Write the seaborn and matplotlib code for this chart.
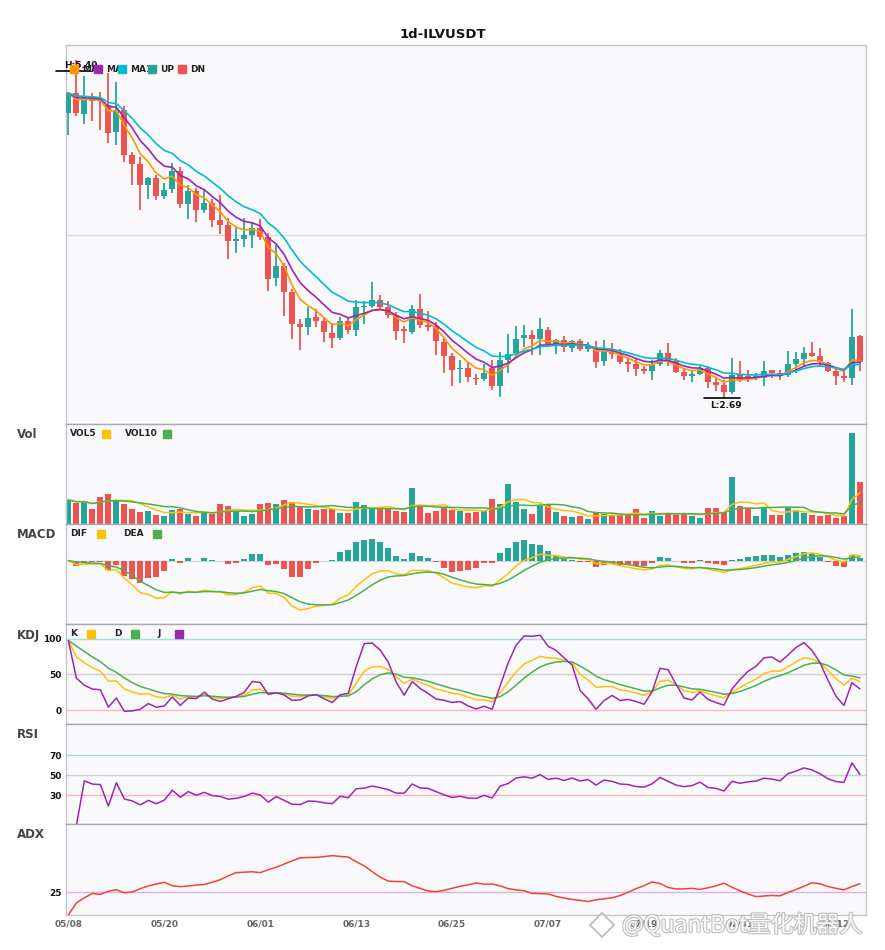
import numpy as np
import pandas as pd
import matplotlib
matplotlib.use("Agg")
import matplotlib.pyplot as plt
import matplotlib.patheffects as pe
from matplotlib.patches import Rectangle
from matplotlib.lines import Line2D
from matplotlib.transforms import offset_copy
import seaborn as sns

sns.set_theme(style="white")
plt.rcParams["font.family"] = ["DejaVu Sans", "Noto Sans CJK SC"]
plt.rcParams["axes.unicode_minus"] = False

# ---- daily candles, ILV/USDT ----
dates = pd.date_range("2025-05-08", periods=100, freq="D")

open_ = [4.977, 5.133, 4.967, 5.111, 5.091, 5.039, 4.825, 4.999, 4.638, 4.566,
         4.398, 4.456, 4.309, 4.366, 4.510, 4.245, 4.350, 4.197, 4.253, 4.117,
         4.077, 3.951, 3.965, 3.997, 4.053, 3.983, 3.657, 3.748, 3.542, 3.283,
         3.261, 3.337, 3.307, 3.216, 3.173, 3.309, 3.235, 3.417, 3.427, 3.475,
         3.417, 3.355, 3.235, 3.221, 3.403, 3.275, 3.267, 3.141, 3.026, 2.922,
         2.933, 2.852, 2.842, 2.936, 2.786, 2.994, 3.053, 3.173, 3.195, 3.163,
         3.235, 3.123, 3.155, 3.093, 3.147, 3.088, 3.096, 2.989, 3.088, 3.042,
         2.980, 2.962, 2.925, 2.909, 2.968, 3.053, 2.989, 2.900, 2.872, 2.888,
         2.936, 2.820, 2.794, 2.740, 2.874, 2.860, 2.852, 2.856, 2.914, 2.892,
         2.874, 2.968, 3.002, 3.053, 3.026, 2.973, 2.906, 2.866, 2.856, 3.187]

high = [5.143, 5.400, 5.272, 5.133, 5.143, 5.298, 5.224, 5.031, 4.662, 4.625,
        4.464, 4.478, 4.416, 4.572, 4.544, 4.398, 4.374, 4.358, 4.283, 4.317,
        4.133, 4.066, 4.133, 4.093, 4.125, 4.013, 3.916, 3.772, 3.564, 3.323,
        3.417, 3.401, 3.341, 3.289, 3.337, 3.337, 3.475, 3.467, 3.622, 3.513,
        3.467, 3.379, 3.267, 3.435, 3.524, 3.387, 3.301, 3.171, 3.050, 3.000,
        2.970, 2.888, 2.968, 2.994, 3.061, 3.203, 3.267, 3.275, 3.235, 3.329,
        3.257, 3.168, 3.187, 3.160, 3.168, 3.141, 3.147, 3.155, 3.133, 3.088,
        3.021, 3.008, 2.946, 2.994, 3.074, 3.133, 3.010, 2.928, 2.914, 2.946,
        2.946, 2.860, 2.840, 3.016, 2.989, 2.914, 2.896, 2.986, 2.920, 2.914,
        3.066, 3.061, 3.101, 3.141, 3.096, 2.980, 2.941, 2.900, 3.403, 3.195]

low = [4.799, 4.951, 4.887, 4.913, 4.839, 4.737, 4.718, 4.584, 4.398, 4.197,
       4.283, 4.277, 4.283, 4.336, 4.213, 4.123, 4.103, 4.176, 4.063, 4.005,
       3.804, 3.855, 3.903, 3.892, 3.957, 3.550, 3.590, 3.350, 3.165, 3.074,
       3.195, 3.257, 3.141, 3.096, 3.160, 3.203, 3.187, 3.281, 3.411, 3.395,
       3.331, 3.155, 3.133, 3.208, 3.251, 3.229, 3.034, 2.892, 2.788, 2.812,
       2.820, 2.794, 2.826, 2.754, 2.700, 2.892, 3.026, 3.101, 3.034, 3.034,
       3.115, 3.042, 3.061, 3.061, 3.069, 3.061, 2.933, 2.949, 3.008, 2.962,
       2.900, 2.868, 2.888, 2.834, 2.946, 2.946, 2.890, 2.840, 2.820, 2.874,
       2.772, 2.746, 2.690, 2.727, 2.820, 2.820, 2.834, 2.786, 2.856, 2.840,
       2.860, 2.892, 2.946, 3.021, 2.946, 2.900, 2.794, 2.820, 2.794, 2.909]

close = [5.133, 4.977, 5.093, 5.074, 5.071, 4.817, 4.999, 4.638, 4.566, 4.398,
         4.456, 4.309, 4.358, 4.510, 4.245, 4.350, 4.197, 4.253, 4.117, 4.077,
         3.951, 3.965, 3.997, 4.053, 3.983, 3.644, 3.748, 3.542, 3.285, 3.261,
         3.329, 3.309, 3.221, 3.173, 3.307, 3.235, 3.417, 3.430, 3.475, 3.422,
         3.355, 3.229, 3.229, 3.403, 3.275, 3.261, 3.149, 3.026, 2.914, 2.933,
         2.860, 2.842, 2.890, 2.786, 2.994, 3.048, 3.168, 3.195, 3.163, 3.241,
         3.128, 3.155, 3.101, 3.147, 3.083, 3.109, 2.980, 3.069, 3.042, 2.980,
         2.968, 2.922, 2.909, 2.954, 3.053, 2.980, 2.900, 2.866, 2.880, 2.928,
         2.820, 2.799, 2.740, 2.874, 2.834, 2.856, 2.866, 2.906, 2.892, 2.866,
         2.962, 3.002, 3.053, 3.029, 2.980, 2.909, 2.866, 2.852, 3.181, 2.980]

# volume in thousands
volume = [24.3, 20.7, 22.3, 15.3, 27.3, 30.3, 24.3, 20.3, 15.3, 12.3,
          13.3, 9.3, 8.3, 14.3, 15.3, 10.7, 8.3, 12.0, 10.7, 20.3,
          18.3, 13.0, 8.3, 10.3, 20.3, 21.3, 20.3, 24.3, 22.3, 17.0,
          15.3, 14.3, 15.3, 15.0, 11.7, 11.7, 22.3, 19.3, 16.0, 15.0,
          15.0, 13.7, 12.7, 36.3, 18.3, 11.7, 13.7, 17.0, 14.3, 13.7,
          11.7, 12.7, 13.7, 25.3, 20.3, 40.3, 22.3, 15.3, 10.3, 18.3,
          19.3, 12.3, 8.3, 7.3, 8.3, 5.3, 12.3, 10.7, 9.3, 9.3,
          10.3, 15.3, 6.3, 13.3, 8.3, 11.3, 11.3, 10.3, 8.3, 6.3,
          16.3, 16.3, 12.3, 47.3, 18.3, 15.7, 8.3, 17.3, 9.3, 9.3,
          17.3, 14.3, 11.3, 9.3, 8.3, 9.3, 6.3, 8.3, 90.3, 42.3]

df = pd.DataFrame({"open": open_, "high": high, "low": low,
                   "close": close, "volume": volume}, index=dates)
idx = np.arange(len(df))

UP = "#26a69a"
DN = "#ef5350"
bar_colors = np.where(df["close"] >= df["open"], UP, DN)

# ---- indicators ----
# fibonacci moving averages 5 / 8 / 13
for n in (5, 8, 13):
    df[f"ma{n}"] = df["close"].ewm(span=n, adjust=False).mean()
df["vol5"] = df["volume"].rolling(5, min_periods=1).mean()
df["vol10"] = df["volume"].rolling(10, min_periods=1).mean()

# fast MACD (6, 13, 5)
df["dif"] = df["close"].ewm(span=6, adjust=False).mean() - df["close"].ewm(span=13, adjust=False).mean()
df["dea"] = df["dif"].ewm(span=5, adjust=False).mean()
df["hist"] = 2 * (df["dif"] - df["dea"])

low9 = df["low"].rolling(9, min_periods=1).min()
high9 = df["high"].rolling(9, min_periods=1).max()
rsv = (df["close"] - low9) / (high9 - low9) * 100
df["k"] = rsv.ewm(com=2, adjust=False).mean()
df["d"] = df["k"].ewm(com=2, adjust=False).mean()
df["j"] = 3 * df["k"] - 2 * df["d"]

delta = df["close"].diff()
gain = delta.clip(lower=0).ewm(com=13).mean()
loss = (-delta.clip(upper=0)).ewm(com=13).mean()
df["rsi"] = 100 * gain / (gain + loss)

prev_close = df["close"].shift()
tr = pd.concat([df["high"] - df["low"], (df["high"] - prev_close).abs(),
                (df["low"] - prev_close).abs()], axis=1).max(axis=1)
up_move = df["high"].diff()
dn_move = -df["low"].diff()
pdm = pd.Series(np.where((up_move > dn_move) & (up_move > 0), up_move, 0.0), index=df.index)
mdm = pd.Series(np.where((dn_move > up_move) & (dn_move > 0), dn_move, 0.0), index=df.index)
atr = tr.ewm(span=14, adjust=False).mean()
pdi = 100 * pdm.ewm(span=14, adjust=False).mean() / atr
mdi = 100 * mdm.ewm(span=14, adjust=False).mean() / atr
dx = (100 * (pdi - mdi).abs() / (pdi + mdi)).fillna(0)
df["adx"] = dx.ewm(span=14, adjust=False).mean()

# ---- figure layout (pixel based) ----
W, H = 885, 950
fig = plt.figure(figsize=(W / 100, H / 100), dpi=100)
left, right = 66 / W, 865.5 / W


def add_panel(top_px, bottom_px, sharex=None):
    ax = fig.add_axes([left, 1 - bottom_px / H, right - left, (bottom_px - top_px) / H],
                      sharex=sharex)
    ax.set_facecolor("#f9f9fc")
    for s in ax.spines.values():
        s.set_color("#c4c4ce")
        s.set_linewidth(1)
    ax.tick_params(axis="both", length=0)
    return ax


ax_k = add_panel(45, 424.3)
ax_v = add_panel(424.3, 524.3, ax_k)
ax_m = add_panel(524.3, 624.3, ax_k)
ax_kdj = add_panel(624.3, 724.3, ax_k)
ax_r = add_panel(724.3, 824.3, ax_k)
ax_a = add_panel(824.3, 915, ax_k)
for ax in (ax_v, ax_m, ax_kdj, ax_r, ax_a):
    ax.spines["top"].set_color("#a8a8b0")

# ---- candles ----
ax_k.axhline(4.0, color="#dcdce0", lw=1, zorder=0)
ax_k.vlines(idx, df["low"], df["high"], colors=bar_colors, lw=1.3, zorder=2)
body = np.maximum((df["close"] - df["open"]).abs(), 0.012)
ax_k.bar(idx, body, bottom=np.minimum(df["open"], df["close"]), width=0.75,
         color=bar_colors, linewidth=0, zorder=3)
for col, c in (("ma5", "#ff9800"), ("ma8", "#9c27b0"), ("ma13", "#00bcd4")):
    sns.lineplot(x=idx, y=df[col].values, ax=ax_k, color=c, linewidth=1.2, zorder=4)
rng = df["high"].max() - df["low"].min()
ax_k.set_ylim(df["low"].min() - 0.077 * rng, df["high"].max() + 0.044 * rng)
ax_k.set_yticks([])

# high / low markers
ih = int(np.argmax(df["high"].values))
hv = df["high"].iloc[ih]
t_h = offset_copy(ax_k.transData, fig=fig, x=0, y=-11, units="dots")
ax_k.plot([ih - 2.5, ih + 1.75], [hv, hv], color="black", lw=1.2, transform=t_h, clip_on=False, zorder=6)
ax_k.text(ih + 0.5, hv, f"H:{hv:.2f}", transform=offset_copy(ax_k.transData, fig=fig, y=-10, units="dots"),
          ha="center", va="bottom", fontsize=6.5, fontweight="bold", color="#111", zorder=6, clip_on=False)
il = int(np.argmin(df["low"].values))
lv = df["low"].iloc[il]
ax_k.plot([il - 2.5, il + 2.0], [lv, lv], color="black", lw=1.2, zorder=6)
ax_k.text(il + 0.3, lv, f"L:{lv:.2f}", transform=offset_copy(ax_k.transData, fig=fig, y=-3, units="dots"),
          ha="center", va="top", fontsize=6.5, fontweight="bold", color="#111", zorder=6)

# ---- volume ----
ax_v.bar(idx, df["volume"], width=0.75, color=bar_colors, linewidth=0, zorder=2)
sns.lineplot(x=idx, y=df["vol5"].values, ax=ax_v, color="#ffc107", linewidth=1.1, zorder=3)
sns.lineplot(x=idx, y=df["vol10"].values, ax=ax_v, color="#4caf50", linewidth=1.1, zorder=3)
ax_v.set_ylim(0, df["volume"].max() * 1.1)
ax_v.set_yticks([])

# ---- MACD ----
ax_m.axhline(0, color="#d6d6da", lw=1, zorder=0)
ax_m.bar(idx, df["hist"], width=0.75, color=np.where(df["hist"] >= 0, UP, DN), linewidth=0, zorder=2)
sns.lineplot(x=idx, y=df["dif"].values, ax=ax_m, color="#ffc107", linewidth=1.1, zorder=3)
sns.lineplot(x=idx, y=df["dea"].values, ax=ax_m, color="#4caf50", linewidth=1.1, zorder=3)
m_lo = df[["dif", "dea", "hist"]].min().min()
m_hi = df[["dif", "dea", "hist"]].max().max()
m_pad = 0.2 * (m_hi - m_lo)
ax_m.set_ylim(m_lo - m_pad, m_hi + m_pad)
ax_m.set_yticks([])

# ---- KDJ ----
ax_kdj.axhline(100, color="#a9dcdc", lw=1, zorder=0)
ax_kdj.axhline(50, color="#d0d0d4", lw=1, zorder=0)
ax_kdj.axhline(0, color="#ffb3b8", lw=1, zorder=0)
for col, c in (("k", "#ffc107"), ("d", "#4caf50"), ("j", "#9c27b0")):
    sns.lineplot(x=idx, y=df[col].values, ax=ax_kdj, color=c, linewidth=1.1, zorder=3)
ax_kdj.set_ylim(-20, 120)
ax_kdj.set_yticks([100, 50, 0])

# ---- RSI ----
ax_r.axhline(70, color="#a9dcdc", lw=1, zorder=0)
ax_r.axhline(50, color="#d0d0d4", lw=1, zorder=0)
ax_r.axhline(30, color="#ffb3b8", lw=1, zorder=0)
sns.lineplot(x=idx, y=df["rsi"].values, ax=ax_r, color="#9c27b0", linewidth=1.1, zorder=3)
ax_r.set_ylim(1, 101)
ax_r.set_yticks([70, 50, 30])

# ---- ADX ----
ax_a.axhline(25, color="#dcaee6", lw=1, zorder=0)
sns.lineplot(x=idx, y=df["adx"].values, ax=ax_a, color="#f44336", linewidth=1.1, zorder=3)
ax_a.set_ylim(0, 100)
ax_a.set_yticks([25])

for ax in (ax_kdj, ax_r, ax_a):
    ax.tick_params(axis="y", pad=3, labelsize=6.5, labelcolor="#111")
    for lab in ax.get_yticklabels():
        lab.set_fontweight("bold")

for ax in (ax_k, ax_v, ax_m, ax_kdj, ax_r):
    ax.tick_params(axis="x", labelbottom=False)
    ax.set_xlabel("")
    ax.set_ylabel("")
ax_a.set_xticks(idx[::12])
ax_a.set_xticklabels(df.index[::12].strftime("%m/%d"), fontsize=6.5, fontweight="bold", color="#666")
ax_a.tick_params(axis="x", pad=3)
ax_a.set_xlabel("")
ax_a.set_ylabel("")
ax_k.set_xlim(-0.3, 99.7)

# ---- titles, panel names, legends ----
fig.text(0.5, 1 - 34 / H, "1d-ILVUSDT", ha="center", va="center", fontsize=9.5, fontweight="bold", color="#111")
for name, ypx in (("Vol", 434.5), ("MACD", 534.5), ("KDJ", 635), ("RSI", 734.5), ("ADX", 834.5)):
    fig.text(17 / W, 1 - ypx / H, name, ha="left", va="center", fontsize=8.5, fontweight="bold", color="#444")


def square(xpx, ypx, color, z):
    fig.add_artist(Rectangle((xpx / W, 1 - (ypx + 4) / H), 8 / W, 8 / H,
                             transform=fig.transFigure, color=color, zorder=z))


def label(xpx, ypx, s, z):
    return fig.text(xpx / W, 1 - ypx / H, s, ha="left", va="center", fontsize=6.5,
                    fontweight="bold", color="#222", zorder=z)


main_items = [(70, "#ff9800", "MA5"), (94, "#9c27b0", "MA8"), (118, "#00bcd4", "MA13"),
              (148, UP, "UP"), (178, DN, "DN")]
for k, (xp, c, s) in enumerate(main_items):
    square(xp, 69, c, 10 + 2 * k)
    t = label(xp + 12, 69, s, 11 + 2 * k)
    if k + 1 < len(main_items):
        t.set_clip_path(Rectangle((0, 0), main_items[k + 1][0] / W, 1, transform=fig.transFigure))

sub_items = [(434, [("VOL5", 70, 101.5, "#ffc107"), ("VOL10", 125, 163, "#4caf50")]),
             (533.7, [("DIF", 70, 97, "#ffc107"), ("DEA", 123, 153, "#4caf50")]),
             (633.7, [("K", 70.5, 87, "#ffc107"), ("D", 114, 131, "#4caf50"), ("J", 157, 175, "#9c27b0")])]
for ypx, items in sub_items:
    for s, xt, xs, c in items:
        label(xt, ypx, s, 10)
        square(xs, ypx, c, 10)

# watermark
wm = fig.text(622 / W, 1 - 925 / H, "@QuantBot量化机器人", ha="left", va="center", fontsize=16.5,
              color="white", alpha=0.9, zorder=30,
              family=["Noto Sans CJK SC", "DejaVu Sans"])
wm.set_path_effects([pe.withStroke(linewidth=1.6, foreground="#b8b8b8")])
fig.add_artist(Line2D([602 / W], [1 - 925 / H], marker="D", markersize=12, markerfacecolor="white",
                      markeredgecolor="#c0c0c0", markeredgewidth=1.4, transform=fig.transFigure, zorder=30))

fig.savefig("out.png", dpi=100)
